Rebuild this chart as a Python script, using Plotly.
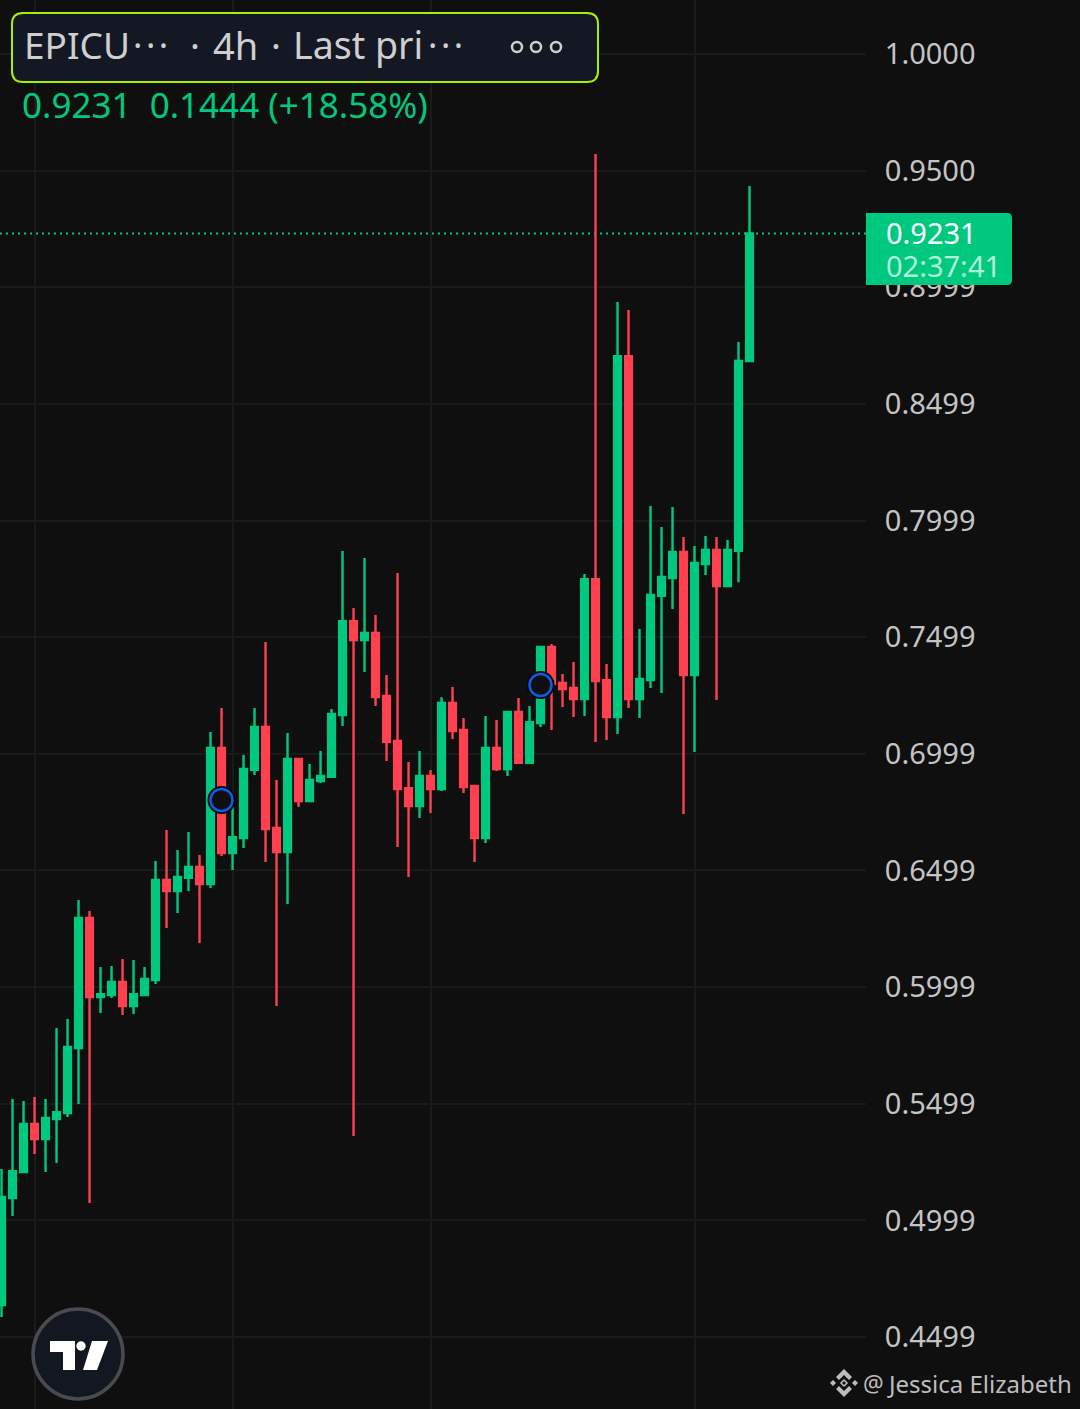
import plotly.graph_objects as go

#Candle values, one entry per 4h bar
opens=[.4637,.5096,.5207,.5413,.5349,.5434,.5460,.5739,.6296,.5957,.5966,.6022,.5919,.5966,.6030,.6459,.6412,.6468,.6515,.6442,.7025,.6575,.6639,.6931,.7115,.6682,.6579,.6978,.6798,.6883,.6901,.7166,.7569,.7488,.7518,.7248,.7055,.6853,.6776,.6905,.6849,.7218,.7102,.6862,.6639,.7025,.6935,.7179,.6961,.7132,.7458,.7304,.7282,.7235,.7749,.7316,.7158,.8705,.7235,.7316,.7677,.7754,.7865,.7338,.7814,.7874,.7719,.7870,.8684]
highs=[.5220,.5520,.5512,.5529,.5520,.5825,.5863,.6373,.6326,.6086,.6090,.6120,.6116,.6086,.6540,.6673,.6588,.6665,.6566,.7094,.7196,.6802,.6995,.7196,.7479,.6888,.7089,.6982,.6956,.7012,.7192,.7869,.7625,.7839,.7595,.7338,.7775,.6965,.7012,.6931,.7243,.7286,.7153,.6866,.7162,.7145,.7183,.7239,.7205,.7458,.7471,.7342,.7394,.7771,.9571,.7385,.8937,.8903,.7535,.8062,.7972,.8058,.7929,.7891,.7934,.7929,.7917,.8765,.9434]
lows=[.4586,.5019,.5207,.5284,.5207,.5246,.5443,.5499,.5074,.5889,.5953,.5880,.5885,.5966,.6013,.6253,.6318,.6412,.6189,.6425,.6562,.6502,.6596,.6909,.6536,.5919,.6356,.6772,.6798,.6875,.6896,.7119,.5362,.7351,.7205,.6969,.6600,.6472,.6725,.6746,.6841,.7063,.6832,.6536,.6618,.6926,.6905,.6956,.6961,.7115,.7102,.7201,.7158,.7162,.7051,.7059,.7085,.7196,.7153,.7282,.7261,.7621,.6742,.7008,.7767,.7231,.7715,.7736,.8684]
closes=[.5100,.5211,.5413,.5349,.5439,.5464,.5743,.6296,.5957,.5970,.6022,.5919,.5970,.6035,.6459,.6412,.6472,.6515,.6442,.7025,.6575,.6643,.6935,.7115,.6678,.6579,.6978,.6798,.6888,.6905,.7171,.7569,.7488,.7518,.7243,.7051,.6849,.6776,.6905,.6849,.7218,.7098,.6858,.6639,.7025,.6935,.7179,.6961,.7136,.7458,.7299,.7278,.7235,.7749,.7312,.7158,.8705,.7235,.7321,.7681,.7758,.7865,.7338,.7818,.7874,.7719,.7874,.8684,.9231]
bars=list(range(len(opens)))

#Axis ticks
price_ticks=[1.0,.95,.9,.85,.8,.75,.7,.65,.6,.55,.5,.45]
price_labels=["1.0000","0.9500","0.8999","0.8499","0.7999","0.7499","0.6999","0.6499","0.5999","0.5499","0.4999","0.4499"]
time_ticks=[3,21,39,63]

#Blue signal circles
signal_bars=[20,49]
signal_prices=[.6802,.7295]

GREEN="#00C97F"
RED="#FF4050"
BG="#0F0F0F"
GRID="#1A1A1A"
FONT="Noto Sans"
W,H,PLOT_W=1080,1409,866

#Overlay items are placed in page pixels, these two turn them into paper units
def px(x):
  return x/PLOT_W
def py(y):
  return 1-y/H

def poly(points):
  return "M"+" L".join("{} {}".format(px(x),py(y)) for x,y in points)+" Z"

def rounded(x0,y0,x1,y1,r):
  #Small line steps for each corner would be overkill, quadratic curves do it
  return ("M{} {} L{} {} Q{} {} {} {} L{} {} Q{} {} {} {} L{} {} Q{} {} {} {} L{} {} Q{} {} {} {} Z").format(
    px(x0+r),py(y0),px(x1-r),py(y0),px(x1),py(y0),px(x1),py(y0+r),
    px(x1),py(y1-r),px(x1),py(y1),px(x1-r),py(y1),
    px(x0+r),py(y1),px(x0),py(y1),px(x0),py(y1-r),
    px(x0),py(y0+r),px(x0),py(y0),px(x0+r),py(y0))

def circle(fig,x,y,r,fill,line,width):
  fig.add_shape(type="circle",xref="paper",yref="paper",x0=px(x-r),x1=px(x+r),y0=py(y+r),y1=py(y-r),
    fillcolor=fill,line=dict(color=line,width=width),layer="above")

def path(fig,d,fill,line="rgba(0,0,0,0)",width=0):
  fig.add_shape(type="path",path=d,xref="paper",yref="paper",fillcolor=fill,line=dict(color=line,width=width),layer="above")

def label(fig,x,y,text,size,color):
  fig.add_annotation(x=px(x),y=py(y),xref="paper",yref="paper",text=text,showarrow=False,xanchor="left",yanchor="middle",
    borderpad=0,font=dict(family=FONT,size=size,color=color))

fig=go.Figure()

fig.add_trace(go.Candlestick(x=bars,open=opens,high=highs,low=lows,close=closes,whiskerwidth=0,
  increasing=dict(fillcolor=GREEN,line=dict(color=GREEN,width=2.4)),
  decreasing=dict(fillcolor=RED,line=dict(color=RED,width=2.4)),showlegend=False))

#Halo first, the blue ring on top of it
fig.add_trace(go.Scatter(x=signal_bars,y=signal_prices,mode="markers",showlegend=False,
  marker=dict(size=28,color="#050505")))
fig.add_trace(go.Scatter(x=signal_bars,y=signal_prices,mode="markers",showlegend=False,
  marker=dict(size=22,color=BG,line=dict(color="#0B5CEB",width=2.5))))

#Last price line
fig.add_shape(type="line",xref="paper",yref="y",x0=0,x1=1,y0=closes[-1],y1=closes[-1],
  line=dict(color=GREEN,width=2,dash="2px,4px"),layer="below")

#Header box
path(fig,rounded(12,13,598,82,11),"#141824","#A9F000",2)
label(fig,23,45,"EPICU",37,"#CFCFCF")
label(fig,132,45,"\u00b7\u200a\u00b7\u200a\u00b7",35,"#CFCFCF")
label(fig,189,45,"\u00b7",37,"#CFCFCF")
label(fig,212,45,"4h",38,"#CFCFCF")
label(fig,270,45,"\u00b7",37,"#CFCFCF")
label(fig,292,45,"Last pri",37.5,"#CFCFCF")
label(fig,427,45,"\u00b7\u200a\u00b7\u200a\u00b7",35,"#CFCFCF")
for dot_x in [517,536,556]:
  circle(fig,dot_x,47,5,"rgba(0,0,0,0)","#CFCFCF",2.5)
label(fig,21,105,"0.9231  0.1444 (+18.58%)",35,GREEN)

#Price tag on the axis
path(fig,rounded(866,213,1012,285,5),GREEN)
path(fig,poly([(866,213),(876,213),(876,285),(866,285)]),GREEN)
label(fig,885,233,"0.9231",29,"#FFFFFF")
label(fig,885,265,"02:37:41",29,"#B0F1D8")

#TradingView badge
circle(fig,78,1354,45,"#131722","#4A4B50",3.5)
path(fig,poly([(50,1341),(75,1341),(75,1370),(63,1370),(63,1352),(50,1352)]),"#FFFFFF")
circle(fig,81,1346,4.7,"#FFFFFF","#FFFFFF",0)
path(fig,poly([(92,1341),(108,1341),(97,1370),(83,1370)]),"#FFFFFF")

#Watermark
path(fig,poly([(844,1369),(852,1377),(849,1380),(844,1375),(839,1380),(836,1377)]),"#BDBDBD")
path(fig,poly([(844,1397),(852,1389),(849,1386),(844,1391),(839,1386),(836,1389)]),"#BDBDBD")
path(fig,poly([(833,1380),(836,1383),(833,1386),(830,1383)]),"#BDBDBD")
path(fig,poly([(855,1380),(858,1383),(855,1386),(852,1383)]),"#BDBDBD")
path(fig,poly([(844,1380),(847,1383),(844,1386),(841,1383)]),"rgba(0,0,0,0)","#BDBDBD",1.5)
label(fig,862,1383,"@",23,"#BDBDBD")
label(fig,886,1383,"Jessica Elizabeth",24,"#BDBDBD")

fig.update_layout(width=W,height=H,margin=dict(l=0,r=W-PLOT_W,t=0,b=0),paper_bgcolor=BG,plot_bgcolor=BG,
  showlegend=False,boxgap=0.12,hovermode=False)
fig.update_xaxes(range=[-0.14,78.59],rangeslider_visible=False,tickvals=time_ticks,showticklabels=False,ticks="",
  showgrid=True,gridcolor=GRID,gridwidth=2,zeroline=False,showline=False)
fig.update_yaxes(range=[0.41913,1.02315],side="right",tickvals=price_ticks,ticktext=price_labels,showgrid=True,gridcolor=GRID,
  gridwidth=2,zeroline=False,showline=False,ticks="outside",ticklen=12,tickcolor="rgba(0,0,0,0)",
  tickfont=dict(family=FONT,size=29,color="#C4C4C4"))

fig.write_html("out.html",config=dict(displayModeBar=False),post_script="document.body.style.margin='0';document.body.style.background='"+BG+"';")
